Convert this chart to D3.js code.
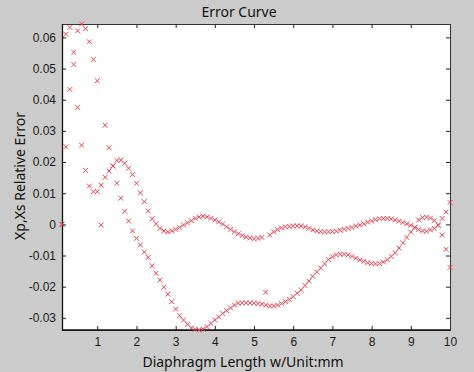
<!DOCTYPE html>
<html>
<head>
<meta charset="utf-8">
<script src="https://cdn.jsdelivr.net/npm/d3@7"></script>
<style>
  html, body { margin: 0; padding: 0; background: #cbcbcb; }
  svg { display: block; }
</style>
</head>
<body>
<svg id="chart" width="474" height="372"></svg>
<script>
// x grid: 0.1 .. 10 in steps of 0.1
const xValues = d3.range(1, 101).map((i) => +(i / 10).toFixed(1));

// upper curve (oscillates around zero)
const seriesA = [
  0, 0.0249, 0.0433, 0.0513, 0.0375, 0.0254, 0.0173, 0.0123, 0.0105, 0.0105,
  0.0126, 0.0151, 0.0171, 0.0188, 0.0205, 0.0206, 0.0196, 0.0180, 0.0160, 0.0132,
  0.0101, 0.0073, 0.0043, 0.0018, 0.0002, -0.0013, -0.0021, -0.0024, -0.0021, -0.0016,
  -0.0010, -0.0002, 0.0005, 0.0012, 0.0019, 0.0024, 0.0027, 0.0024, 0.0019, 0.0014,
  0.0008, 0.0001, -0.0008, -0.0016, -0.0024, -0.0030, -0.0036, -0.0041, -0.0044, -0.0046,
  -0.0045, -0.0042, -0.0218, -0.0034, -0.0024, -0.0017, -0.0011, -0.0008, -0.0007, -0.0005,
  -0.0005, -0.0005, -0.0008, -0.0013, -0.0018, -0.0021, -0.0023, -0.0024, -0.0024, -0.0023,
  -0.0022, -0.0019, -0.0016, -0.0013, -0.0010, -0.0006, -0.0002, 0.0002, 0.0007, 0.0011,
  0.0015, 0.0018, 0.0019, 0.0019, 0.0017, 0.0014, 0.0010, 0.0006, 0.0002, -0.0003,
  -0.0010, -0.0017, -0.0021, -0.0022, -0.0018, -0.0013, -0.0003, 0.0019, 0.0040, 0.0070
];

// lower curve (dips to about -0.034)
const seriesB = [
  0, 0.0610, 0.0632, 0.0552, 0.0621, 0.0643, 0.0628, 0.0586, 0.0529, 0.0461,
  -0.0002, 0.0318, 0.0246, 0.0187, 0.0132, 0.0084, 0.0042, 0.0011, -0.0021, -0.0045,
  -0.0066, -0.0089, -0.0106, -0.0133, -0.0157, -0.0179, -0.0202, -0.0224, -0.0248, -0.0272,
  -0.0293, -0.0307, -0.0321, -0.0332, -0.0337, -0.0339, -0.0336, -0.0328, -0.0318, -0.0307,
  -0.0297, -0.0286, -0.0277, -0.0268, -0.0259, -0.0253, -0.0252, -0.0252, -0.0252, -0.0253,
  -0.0254, -0.0256, -0.0259, -0.0262, -0.0262, -0.0259, -0.0254, -0.0248, -0.0241, -0.0232,
  -0.0221, -0.0210, -0.0196, -0.0182, -0.0167, -0.0153, -0.0140, -0.0127, -0.0113, -0.0104,
  -0.0098, -0.0096, -0.0096, -0.0098, -0.0103, -0.0109, -0.0114, -0.0119, -0.0123, -0.0126,
  -0.0127, -0.0126, -0.0121, -0.0113, -0.0103, -0.0091, -0.0076, -0.0059, -0.0042, -0.0025,
  -0.0010, 0.0014, 0.0022, 0.0023, 0.0020, 0.0012, -0.0002, -0.0034, -0.0080, -0.0138
];

const xTicks = [1, 2, 3, 4, 5, 6, 7, 8, 9, 10];
const yTicks = [-0.03, -0.02, -0.01, 0, 0.01, 0.02, 0.03, 0.04, 0.05, 0.06];

const title = 'Error Curve';
const xLabel = 'Diaphragm Length w/Unit:mm';
const yLabel = 'Xp,Xs Relative Error';

const margin = { left: 62, top: 24, right: 24, bottom: 42 };
const W = 474, H = 372;
const iw = W - margin.left - margin.right;
const ih = H - margin.top - margin.bottom;

const x = d3.scaleLinear().domain([0.1, 10]).range([0, iw]);
const y = d3.scaleLinear().domain([-0.0339, 0.0643]).range([ih, 0]);

const svg = d3.select('#chart');
svg.append('rect').attr('width', W).attr('height', H).attr('fill', '#cbcbcb');

const g = svg.append('g').attr('transform', `translate(${margin.left},${margin.top})`);

g.append('rect')
  .attr('width', iw)
  .attr('height', ih)
  .attr('fill', '#fff');

const tickFont = '"Liberation Sans", Arial, sans-serif';
const fmtY = (d) => (d === 0 ? '0' : d3.format('.2f')(d).replace('−', '-'));

// bottom + top axes
g.append('g')
  .attr('transform', `translate(0,${ih})`)
  .call(d3.axisBottom(x).tickValues(xTicks).tickSize(-4).tickPadding(7).tickFormat(d3.format('d')))
  .call((a) => a.select('.domain').remove());
g.append('g')
  .call(d3.axisTop(x).tickValues(xTicks).tickSize(-4).tickFormat(''))
  .call((a) => a.select('.domain').remove());

// left + right axes
g.append('g')
  .call(d3.axisLeft(y).tickValues(yTicks).tickSize(-4).tickPadding(6).tickFormat(fmtY))
  .call((a) => a.select('.domain').remove());
g.append('g')
  .attr('transform', `translate(${iw},0)`)
  .call(d3.axisRight(y).tickValues(yTicks).tickSize(-4).tickFormat(''))
  .call((a) => a.select('.domain').remove());

g.selectAll('.tick line').attr('stroke', '#222');
g.selectAll('.tick text')
  .attr('fill', '#1a1a1a')
  .style('font-family', tickFont)
  .style('font-size', '12px');

// box
g.append('rect')
  .attr('width', iw)
  .attr('height', ih)
  .attr('fill', 'none')
  .attr('stroke', '#333')
  .attr('stroke-width', 1)
  .attr('shape-rendering', 'crispEdges');

// left and bottom axis lines a bit heavier
g.append('path')
  .attr('d', `M0.5,0V${ih}H${iw}`)
  .attr('fill', 'none')
  .attr('stroke', '#111')
  .attr('stroke-width', 1.3);

// markers
const points = xValues.flatMap((xv, i) => [
  { x: xv, y: seriesA[i] },
  { x: xv, y: seriesB[i] },
]);
const s = 2.4;
g.append('g')
  .selectAll('path')
  .data(points)
  .join('path')
  .attr('transform', (d) => `translate(${x(d.x)},${y(d.y)})`)
  .attr('d', `M${-s},${-s}L${s},${s}M${-s},${s}L${s},${-s}`)
  .attr('stroke', '#e6414f')
  .attr('stroke-width', 1)
  .attr('fill', 'none');

const labelFont = '"Noto Sans", "Open Sans", sans-serif';

svg.append('text')
  .attr('x', 239)
  .attr('y', 17)
  .attr('text-anchor', 'middle')
  .style('font-family', labelFont)
  .style('font-size', '14px')
  .attr('fill', '#111')
  .text(title);

svg.append('text')
  .attr('x', 243)
  .attr('y', 367)
  .attr('text-anchor', 'middle')
  .style('font-family', labelFont)
  .style('font-size', '14px')
  .attr('fill', '#111')
  .text(xLabel);

svg.append('text')
  .attr('transform', 'translate(25,176)rotate(-90)')
  .attr('text-anchor', 'middle')
  .style('font-family', labelFont)
  .style('font-size', '14px')
  .attr('fill', '#111')
  .text(yLabel);
</script>
</body>
</html>
